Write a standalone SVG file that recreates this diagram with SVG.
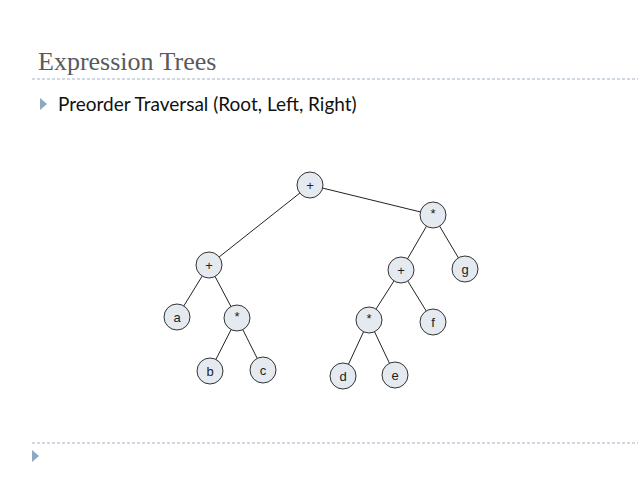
<svg xmlns="http://www.w3.org/2000/svg" width="638" height="479" viewBox="0 0 638 479">
<style>
.n circle{fill:#e4eaf0;stroke:#333;stroke-width:1}
.n text{font-family:"Liberation Sans",Arial,sans-serif;font-size:13px;fill:#222;text-anchor:middle;dominant-baseline:central}
.e line{stroke:#222;stroke-width:1}
.dot{stroke:#9fb3c8;stroke-width:1;stroke-dasharray:3 2}
</style>
<rect width="638" height="479" fill="#fff"/>
<text x="38" y="70" font-family="Liberation Serif,serif" font-size="26" fill="#5a5a5a">Expression Trees</text>
<line class="dot" x1="32" y1="79" x2="638" y2="79"/>
<polygon points="40,98 40,110 47,104" fill="#8ea8c3"/>
<text x="58" y="111" font-family="Lato,'Open Sans',sans-serif" font-size="19" fill="#111">Preorder Traversal (Root, Left, Right)</text>
<line class="dot" x1="32" y1="443" x2="638" y2="443"/>
<polygon points="32,450 32,462 39,456" fill="#8ea8c3"/>
<g class="e">
<line x1="310" y1="185" x2="433" y2="215"/>
<line x1="310" y1="185" x2="209" y2="265"/>
<line x1="209" y1="265" x2="177" y2="317"/>
<line x1="209" y1="265" x2="237" y2="318"/>
<line x1="237" y1="318" x2="210" y2="371"/>
<line x1="237" y1="318" x2="263" y2="370"/>
<line x1="433" y1="215" x2="401" y2="270"/>
<line x1="433" y1="215" x2="465" y2="269"/>
<line x1="401" y1="270" x2="369" y2="320"/>
<line x1="401" y1="270" x2="433" y2="322"/>
<line x1="369" y1="320" x2="343" y2="376"/>
<line x1="369" y1="320" x2="395" y2="375"/>
</g>
<g id="n1" class="n"><circle cx="310" cy="185" r="13"/><text x="310" y="185">+</text></g>
<g id="n2" class="n"><circle cx="433" cy="215" r="13"/><text x="433" y="213">*</text></g>
<g id="n3" class="n"><circle cx="209" cy="265" r="13"/><text x="209" y="265">+</text></g>
<g id="n4" class="n"><circle cx="401" cy="270" r="13"/><text x="401" y="270">+</text></g>
<g id="n5" class="n"><circle cx="465" cy="269" r="13"/><text x="465" y="269">g</text></g>
<g id="n6" class="n"><circle cx="177" cy="317" r="13"/><text x="177" y="317">a</text></g>
<g id="n7" class="n"><circle cx="237" cy="318" r="13"/><text x="237" y="316">*</text></g>
<g id="n8" class="n"><circle cx="369" cy="320" r="13"/><text x="369" y="318">*</text></g>
<g id="n9" class="n"><circle cx="433" cy="322" r="13"/><text x="433" y="322">f</text></g>
<g id="n10" class="n"><circle cx="210" cy="371" r="13"/><text x="210" y="371">b</text></g>
<g id="n11" class="n"><circle cx="263" cy="370" r="13"/><text x="263" y="370">c</text></g>
<g id="n12" class="n"><circle cx="343" cy="376" r="13"/><text x="343" y="376">d</text></g>
<g id="n13" class="n"><circle cx="395" cy="375" r="13"/><text x="395" y="375">e</text></g>
</svg>
